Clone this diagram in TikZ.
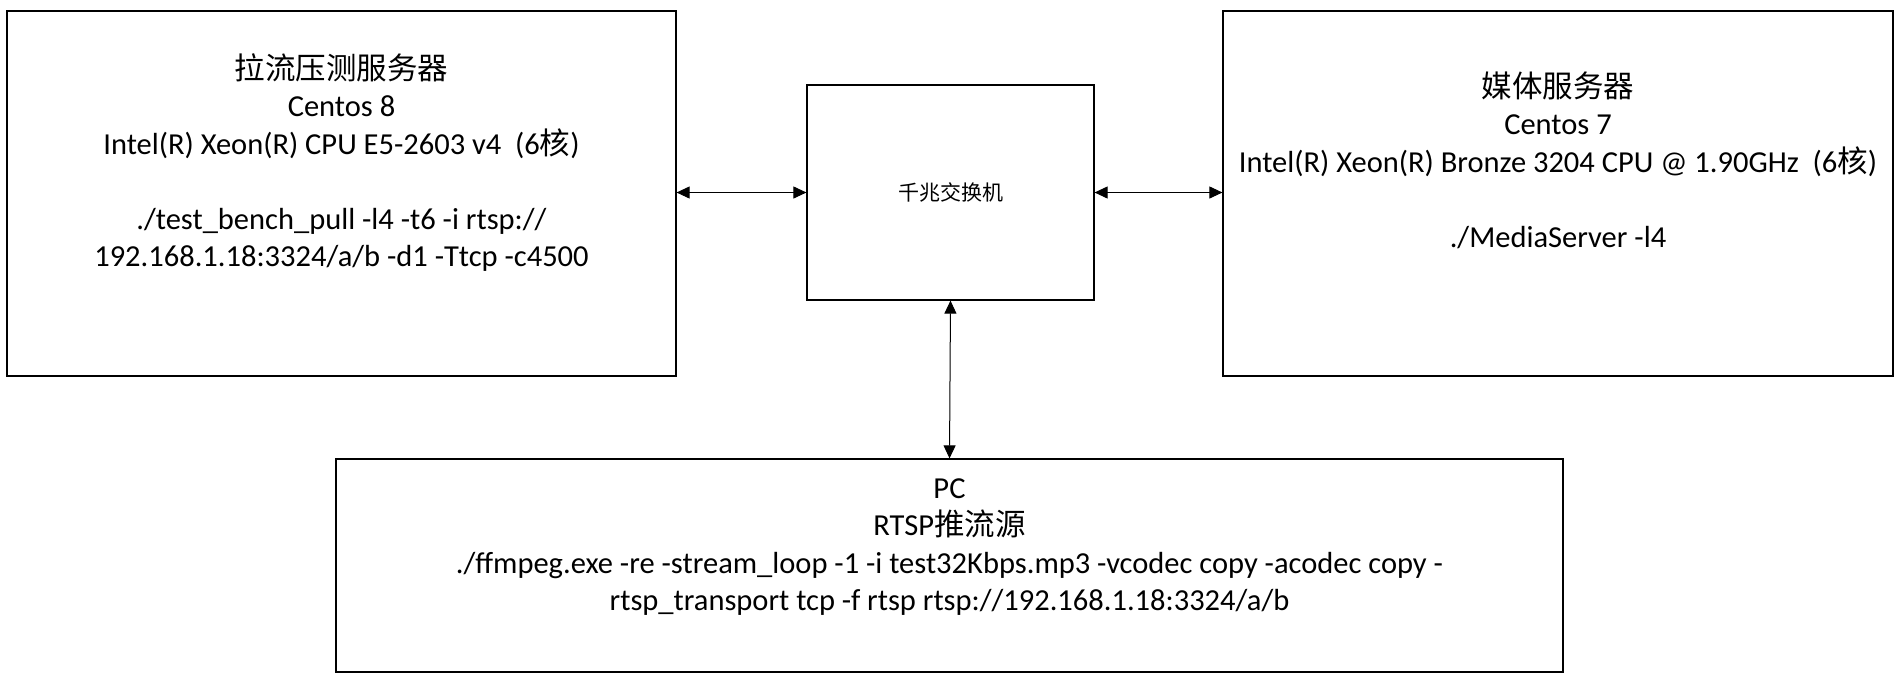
\documentclass[tikz,border=0pt]{standalone}
\usepackage{fontspec}
\setmainfont{Carlito}
\newfontfamily\cjk{Noto Sans CJK SC}
\newcommand\zh[1]{{\cjk #1}}
\usetikzlibrary{arrows.meta}
\begin{document}
\begin{tikzpicture}[x=1pt,y=-1pt,
  boxst/.style={draw,line width=1.2pt,inner sep=0pt},
  txt/.style={align=center,font=\fontsize{30.5}{37.5}\selectfont,anchor=north},
  conn/.style={line width=1pt,{Triangle[length=13pt,width=12pt]}-{Triangle[length=13pt,width=12pt]}}]
\useasboundingbox (0,0) rectangle (1903,686);
\node[boxst,minimum width=669,minimum height=365] (L) at (341.5,193.5) {};
\node[boxst,minimum width=287,minimum height=215] (M) at (950.5,192.5) {};
\node[boxst,minimum width=670,minimum height=365] (R) at (1558,193.5) {};
\node[boxst,minimum width=1227,minimum height=213] (P) at (949.5,565.5) {};
\node[txt] (Lt) at (341.5,50) {\zh{拉流压测服务器}\\Centos 8\\Intel(R) Xeon(R) CPU E5-2603 v4~ (6\zh{核})\\[37.5pt]./test\_bench\_pull -l4 -t6 -i rtsp://\\192.168.1.18:3324/a/b -d1 -Ttcp -c4500};
\node[font=\fontsize{21}{26}\selectfont] (Mt) at (M.center) {\zh{千兆交换机}};
\node[txt] (Rt) at (1558,68) {\zh{媒体服务器}\\Centos 7\\Intel(R) Xeon(R) Bronze 3204 CPU @ 1.90GHz~ (6\zh{核})\\[37.5pt]./MediaServer -l4};
\node[txt] (Pt) at (949.5,475) {PC\\RTSP\zh{推流源}\\./ffmpeg.exe -re -stream\_loop -1 -i test32Kbps.mp3 -vcodec copy -acodec copy -\\rtsp\_transport tcp -f rtsp rtsp://192.168.1.18:3324/a/b};
\draw[conn] (L.east |- M.center) -- (M.west);
\draw[conn] (M.east) -- (R.west |- M.center);
\draw[conn] (M.south) -- (P.north);
\end{tikzpicture}
\end{document}
